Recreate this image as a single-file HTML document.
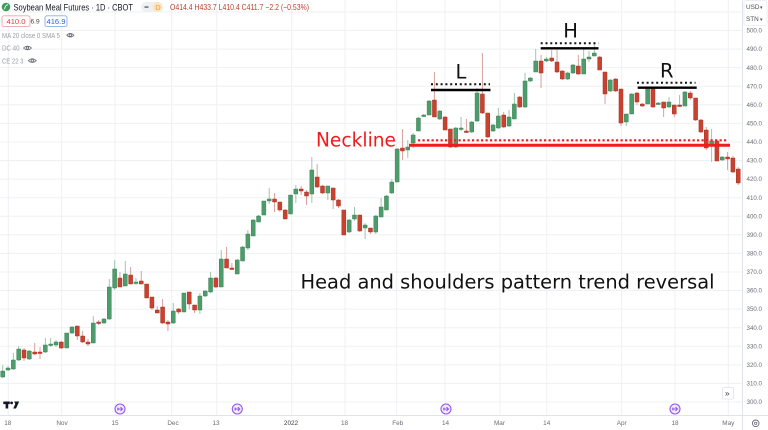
<!DOCTYPE html>
<html><head><meta charset="utf-8"><style>
html,body{margin:0;padding:0;background:#fff;}
svg{display:block;}
text{font-family:"Liberation Sans",sans-serif;}
.ax{font-size:6.2px;fill:#6a6d78;}
.tx{font-size:6.4px;fill:#6a6d78;text-anchor:middle;}
.ind{font-size:7.4px;fill:#9a9da6;}
</style></head><body>
<svg width="768" height="430" viewBox="0 0 768 430" xmlns="http://www.w3.org/2000/svg">
<rect width="768" height="430" fill="#fff"/>
<!-- grid -->
<g stroke="#eef0f4" stroke-width="1">
<path d="M0 11.9H742M0 30.5H742M0 49.1H742M0 67.65H742M0 86.2H742M0 104.8H742M0 123.4H742M0 141.95H742M0 160.5H742M0 179.1H742M0 197.7H742M0 216.25H742M0 234.8H742M0 253.4H742M0 272H742M0 290.55H742M0 309.1H742M0 327.7H742M0 346.3H742M0 364.85H742M0 383.4H742M0 402H742"/>
<path d="M8.3 0V415M61.7 0V415M115 0V415M171.7 0V415M216.7 0V415M291.7 0V415M345 0V415M396.7 0V415M445 0V415M500 0V415M546.7 0V415M621.7 0V415M675 0V415M728.3 0V415"/>
</g>
<!-- separators -->
<path d="M742.5 0V430M0 415.5H768" stroke="#e0e3eb" stroke-width="1"/>

<!-- wicks -->
<path stroke="#9fc6ad" stroke-width="1" fill="none" d="M2.7 365V378M8.03 366V371M13.36 353V370M18.69 346V361M29.35 350V360M45.34 338V353M50.67 338V347M56 340V347M66.66 333V348M71.99 326V334M93.31 316V343M103.97 318V324M109.3 279V320M114.63 260V290M125.29 261V286M135.95 278V285M173.26 303V324M183.92 293V312M199.91 293V314M205.24 290V297M210.57 272V293M221.23 250V287M237.22 259V274M242.55 246V261M247.88 230V250M253.21 219V236M258.54 215V222M263.87 201V215M269.2 188V204M290.52 195V214M295.85 185V203M311.84 157V203M327.83 186V200M349.15 219V233M354.48 207V221M365.14 223V239M375.8 215V234M381.13 198V217M386.46 195V210M391.79 179V194M397.12 148V182M407.78 140V158M413.11 133V148M418.44 117V131M423.77 114V117M429.1 100V115M439.76 110V120M455.75 127V148M461.08 117V131M471.74 121V133M477.07 88V122M493.06 124V132M498.39 108V129M509.05 110V127M514.38 93V119M525.04 73V108M530.37 77V82M535.7 49V72M546.36 57V62M567.68 72V80M573.01 64V74M583.67 48V74M589 51V62M594.33 42V56M610.32 79V92M626.31 114V126M631.64 93V114M647.63 88V104M658.29 102V105M668.95 97V108M684.94 91V106M711.59 129V162M722.25 156V161"/>
<path stroke="#d9a29c" stroke-width="1" fill="none" d="M24.02 348V361M34.68 343V355M40.01 347V359M61.33 341V349M77.32 326V340M82.65 331V343M87.98 339V346M98.64 320V325M119.96 272V287M130.62 267V284M141.28 271V284M146.61 284V298M151.94 297V310M157.27 306V313M162.6 299V324M167.93 320V331M178.59 308V314M189.25 292V309M194.58 305V313M215.9 277V288M226.56 247V268M231.89 263V270M274.53 193V212M279.86 202V212M285.19 209V219M301.18 186V195M306.51 190V205M317.17 164V188M322.5 185V194M333.16 188V209M338.49 199V208M343.82 210V235M359.81 215V232M370.47 228V234M402.45 129V160M434.43 72V117M445.09 116V130M450.42 129V148M466.41 119V133M482.4 53V114M487.73 113V138M503.72 112V128M519.71 96V108M541.03 55V88M551.69 50V62M557.02 50V73M562.35 70V80M578.34 55V75M599.66 56V70M604.99 72V104M615.65 78V92M620.98 89V126M636.97 92V105M642.3 103V107M652.96 88V108M663.62 102V117M674.28 105V117M679.61 95V107M690.27 91V100M695.6 98V121M700.93 119V133M706.26 127V150M716.92 140V161M727.58 152V170M732.91 156V173M738.24 167V185"/>

<!-- bodies -->
<path fill="#4e9b6b" stroke="#3f8459" stroke-width="0.5" d="M0.7 371h4v6h-4zM6.03 368h4v2h-4zM11.36 360h4v9h-4zM16.69 349h4v11h-4zM27.35 351h4v8h-4zM43.34 345h4v7h-4zM48.67 344h4v1.5h-4zM54 342h4v3h-4zM64.66 333h4v15h-4zM69.99 327h4v6h-4zM91.31 323h4v20h-4zM101.97 319h4v4h-4zM107.3 287h4v32h-4zM112.63 269h4v19h-4zM123.29 274h4v12h-4zM133.95 282h4v1.5h-4zM171.26 311h4v12h-4zM181.92 293h4v19h-4zM197.91 296h4v14h-4zM203.24 291h4v5h-4zM208.57 278h4v14h-4zM219.23 259h4v28h-4zM235.22 260h4v14h-4zM240.55 247h4v14h-4zM245.88 234h4v14h-4zM251.21 220h4v16h-4zM256.54 216h4v6h-4zM261.87 201h4v14h-4zM267.2 199h4v2h-4zM288.52 195h4v19h-4zM293.85 189h4v5h-4zM309.84 170h4v24h-4zM325.83 186h4v7h-4zM347.15 220h4v12h-4zM352.48 215h4v4h-4zM363.14 225h4v3h-4zM373.8 216h4v16h-4zM379.13 207h4v10h-4zM384.46 196h4v14h-4zM389.79 182h4v11h-4zM395.12 149h4v33h-4zM405.78 147h4v3h-4zM411.11 135h4v8h-4zM416.44 118h4v13h-4zM421.77 115h4v1.5h-4zM427.1 101h4v14h-4zM437.76 111h4v8h-4zM453.75 128h4v19h-4zM459.08 128h4v1.5h-4zM469.74 122h4v10h-4zM475.07 93h4v28h-4zM491.06 125h4v6h-4zM496.39 116h4v12h-4zM507.05 117h4v9h-4zM512.38 104h4v15h-4zM523.04 81h4v26h-4zM528.37 78h4v3h-4zM533.7 61h4v11h-4zM544.36 59h4v2h-4zM565.68 73h4v6h-4zM571.01 65h4v8h-4zM581.67 59h4v15h-4zM587 57h4v2h-4zM592.33 53h4v3h-4zM608.32 80h4v11h-4zM624.31 114h4v8h-4zM629.64 94h4v20h-4zM645.63 89h4v15h-4zM656.29 103h4v1.5h-4zM666.95 102h4v5h-4zM682.94 92h4v14h-4zM709.59 141h4v3h-4zM720.25 157h4v3h-4z"/>
<path fill="#c9412f" stroke="#a93628" stroke-width="0.5" d="M22.02 350h4v8h-4zM32.68 352h4v2h-4zM38.01 352h4v1.5h-4zM59.33 342h4v6h-4zM75.32 326h4v10h-4zM80.65 336h4v6h-4zM85.98 342h4v2h-4zM96.64 322h4v1.5h-4zM117.96 278h4v9h-4zM128.62 275h4v9h-4zM139.28 281h4v3h-4zM144.61 284h4v14h-4zM149.94 297h4v11h-4zM155.27 310h4v3h-4zM160.6 307h4v16h-4zM165.93 322h4v2h-4zM176.59 309h4v3h-4zM187.25 292h4v12h-4zM192.58 305h4v5h-4zM213.9 278h4v9h-4zM224.56 259h4v9h-4zM229.89 268h4v1.5h-4zM272.53 199h4v3h-4zM277.86 202h4v8h-4zM283.19 210h4v9h-4zM299.18 189h4v2h-4zM304.51 192h4v4h-4zM315.17 177h4v10h-4zM320.5 186h4v7h-4zM331.16 188h4v12h-4zM336.49 200h4v6h-4zM341.82 210h4v25h-4zM357.81 215h4v16h-4zM368.47 228h4v4h-4zM400.45 148h4v3h-4zM432.43 100h4v17h-4zM443.09 117h4v13h-4zM448.42 129h4v18h-4zM464.41 131h4v1.5h-4zM480.4 94h4v19h-4zM485.73 113h4v24h-4zM501.72 115h4v12h-4zM517.71 97h4v10h-4zM539.03 61h4v12h-4zM549.69 58h4v3h-4zM555.02 62h4v10h-4zM560.35 71h4v8h-4zM576.34 66h4v8h-4zM597.66 57h4v13h-4zM602.99 72h4v22h-4zM613.65 79h4v12h-4zM618.98 89h4v34h-4zM634.97 93h4v9h-4zM640.3 104h4v2h-4zM650.96 88h4v19h-4zM661.62 102h4v6h-4zM672.28 105h4v9h-4zM677.61 105h4v1.5h-4zM688.27 93h4v5h-4zM693.6 98h4v22h-4zM698.93 120h4v12h-4zM704.26 130h4v18h-4zM714.92 141h4v20h-4zM725.58 157h4v2h-4zM730.91 158h4v14h-4zM736.24 169h4v14h-4z"/>

<!-- annotations -->
<path d="M409 145.3H730" stroke="#f01c1c" stroke-width="3"/>
<path d="M418 140.3H727" stroke="#f01c1c" stroke-width="2.2" stroke-dasharray="2.2 2.3"/>
<text x="316" y="146.7" font-size="19.5" fill="#f01c1c" textLength="80" lengthAdjust="spacingAndGlyphs" style="font-family:'DejaVu Sans',sans-serif">Neckline</text>

<path d="M431 90H490.5M540.7 48.3H598.5M637.7 87.7H696.7" stroke="#000" stroke-width="2.4"/>
<path d="M431 84.3H490M540.7 43.3H598.5M637 82.7H695.5" stroke="#111" stroke-width="2" stroke-dasharray="2 2.8"/>
<text x="455.5" y="78.3" font-size="19.5" fill="#111" style="font-family:'DejaVu Sans',sans-serif">L</text>
<text x="563.3" y="37.3" font-size="19.5" fill="#111" style="font-family:'DejaVu Sans',sans-serif">H</text>
<text x="660" y="77.7" font-size="19.5" fill="#111" style="font-family:'DejaVu Sans',sans-serif">R</text>

<text x="300.5" y="288.5" font-size="19.4" fill="#111" textLength="414" lengthAdjust="spacingAndGlyphs" style="font-family:'DejaVu Sans',sans-serif">Head and shoulders pattern trend reversal</text>

<!-- price axis -->
<g class="ax">
<text x="746.5" y="32.6">500.0</text><text x="746.5" y="51.2">490.0</text><text x="746.5" y="69.8">480.0</text><text x="746.5" y="88.3">470.0</text><text x="746.5" y="106.9">460.0</text><text x="746.5" y="125.5">450.0</text><text x="746.5" y="144">440.0</text><text x="746.5" y="162.6">430.0</text><text x="746.5" y="181.2">420.0</text><text x="746.5" y="199.8">410.0</text><text x="746.5" y="218.3">400.0</text><text x="746.5" y="236.9">390.0</text><text x="746.5" y="255.5">380.0</text><text x="746.5" y="274.1">370.0</text><text x="746.5" y="292.6">360.0</text><text x="746.5" y="311.2">350.0</text><text x="746.5" y="329.8">340.0</text><text x="746.5" y="348.4">330.0</text><text x="746.5" y="366.9">320.0</text><text x="746.5" y="385.5">310.0</text><text x="746.5" y="404.1">300.0</text>
</g>
<rect x="744" y="0.5" width="23" height="25" rx="2" fill="#fff" stroke="#eceef2"/>
<text x="746" y="9" font-size="6.4" fill="#4a4d57">USD</text><text x="760" y="9" font-size="5" fill="#4a4d57">▾</text>
<text x="746" y="21" font-size="6.4" fill="#4a4d57">STN</text><text x="760" y="21" font-size="5" fill="#4a4d57">▾</text>

<!-- time axis -->
<g class="tx">
<text x="7.8" y="425">18</text><text x="62" y="425">Nov</text><text x="115" y="425">15</text><text x="173" y="425">Dec</text><text x="216" y="425">13</text><text x="291" y="425" style="fill:#3a3d47">2022</text><text x="344.5" y="425">18</text><text x="397.7" y="425">Feb</text><text x="445.5" y="425">14</text><text x="499.5" y="425">Mar</text><text x="546.7" y="425">14</text><text x="621.7" y="425">Apr</text><text x="675" y="425">18</text><text x="728.3" y="425">May</text>
</g>
<circle cx="755.7" cy="423.3" r="3.3" fill="none" stroke="#6a6d78" stroke-width="0.9"/>
<circle cx="755.7" cy="423.3" r="1.2" fill="none" stroke="#6a6d78" stroke-width="0.8"/>

<!-- purple event markers -->
<g fill="#f3ecfd" stroke="#9156f0" stroke-width="1.1">
<circle cx="120" cy="409" r="5"/><circle cx="237.3" cy="409" r="5"/><circle cx="446" cy="409" r="5"/><circle cx="675" cy="409" r="5"/>
</g>
<g stroke="#9156f0" stroke-width="1" fill="none">
<path d="M117 409H122.5M120.5 407L122.5 409L120.5 411M118 407.5V410.5"/>
<path d="M234.3 409H239.8M237.8 407L239.8 409L237.8 411M235.3 407.5V410.5"/>
<path d="M443 409H448.5M446.5 407L448.5 409L446.5 411M444 407.5V410.5"/>
<path d="M672 409H677.5M675.5 407L677.5 409L675.5 411M673 407.5V410.5"/>
</g>

<!-- scroll button -->
<rect x="722.5" y="387.5" width="11" height="11.5" rx="1.5" fill="#fff" stroke="#e6e8ee"/>
<text x="725" y="396" font-size="8" fill="#333">»</text>

<!-- TV logo -->
<g fill="#131722">
<rect x="3.3" y="401.5" width="6.5" height="2.6"/>
<rect x="5.6" y="401.5" width="2.6" height="7"/>
<circle cx="11.6" cy="402.9" r="1.4"/>
<polygon points="14.2,401.5 19.2,401.5 16,408.5 13.2,408.5 15.3,404"/>
</g>

<!-- header -->
<circle cx="6" cy="7" r="4.3" fill="#3d9e5c"/>
<path d="M4.5 9.2C5 6.5 6.5 5 8 4.6" stroke="#fff" stroke-width="0.9" fill="none"/>
<text x="13.5" y="10.3" font-size="9.4" fill="#131722" textLength="119.5" lengthAdjust="spacingAndGlyphs">Soybean Meal Futures · 1D · CBOT</text>
<rect x="141" y="2" width="22" height="10" rx="5" fill="#eef0f3"/>
<rect x="144.5" y="6.4" width="4" height="1.3" fill="#555"/>
<circle cx="157.5" cy="7" r="5" fill="#fde4c4"/>
<text x="155.2" y="9.8" font-size="7.5" fill="#f59a23">D</text>
<text x="170" y="10" font-size="8" fill="#b8402f" textLength="139" lengthAdjust="spacingAndGlyphs">O414.4 H433.7 L410.4 C411.7 −2.2 (−0.53%)</text>

<rect x="2" y="15.8" width="28" height="10.8" rx="2" fill="#fff" stroke="#f2a3a3" stroke-width="0.9"/>
<text x="16" y="23.8" font-size="7.6" fill="#e53935" text-anchor="middle">410.0</text>
<text x="30.5" y="23.6" font-size="6.6" fill="#444">6.9</text>
<rect x="45" y="15.8" width="22" height="10.8" rx="2" fill="#fff" stroke="#8fa9f7" stroke-width="0.9"/>
<text x="56" y="23.8" font-size="7.6" fill="#2962ff" text-anchor="middle">416.9</text>

<text class="ind" x="2" y="38" textLength="58" lengthAdjust="spacingAndGlyphs">MA 20 close 0 SMA 5</text>
<text class="ind" x="2" y="50.7" textLength="17.5" lengthAdjust="spacingAndGlyphs">DC 40</text>
<text class="ind" x="2" y="63.3" textLength="21.5" lengthAdjust="spacingAndGlyphs">CE 22 3</text>
<g fill="none" stroke="#6a6d78" stroke-width="0.8">
<path d="M66.7 35.2Q70.3 31.6 73.9 35.2Q70.3 38.8 66.7 35.2Z"/><circle cx="70.3" cy="35.2" r="1.2"/>
<path d="M23.5 48Q27.5 44.4 31.5 48Q27.5 51.6 23.5 48Z"/><circle cx="27.5" cy="48" r="1.2"/>
<path d="M28.3 60.6Q32.3 57 36.3 60.6Q32.3 64.2 28.3 60.6Z"/><circle cx="32.3" cy="60.6" r="1.2"/>
</g>
</svg>
</body></html>
